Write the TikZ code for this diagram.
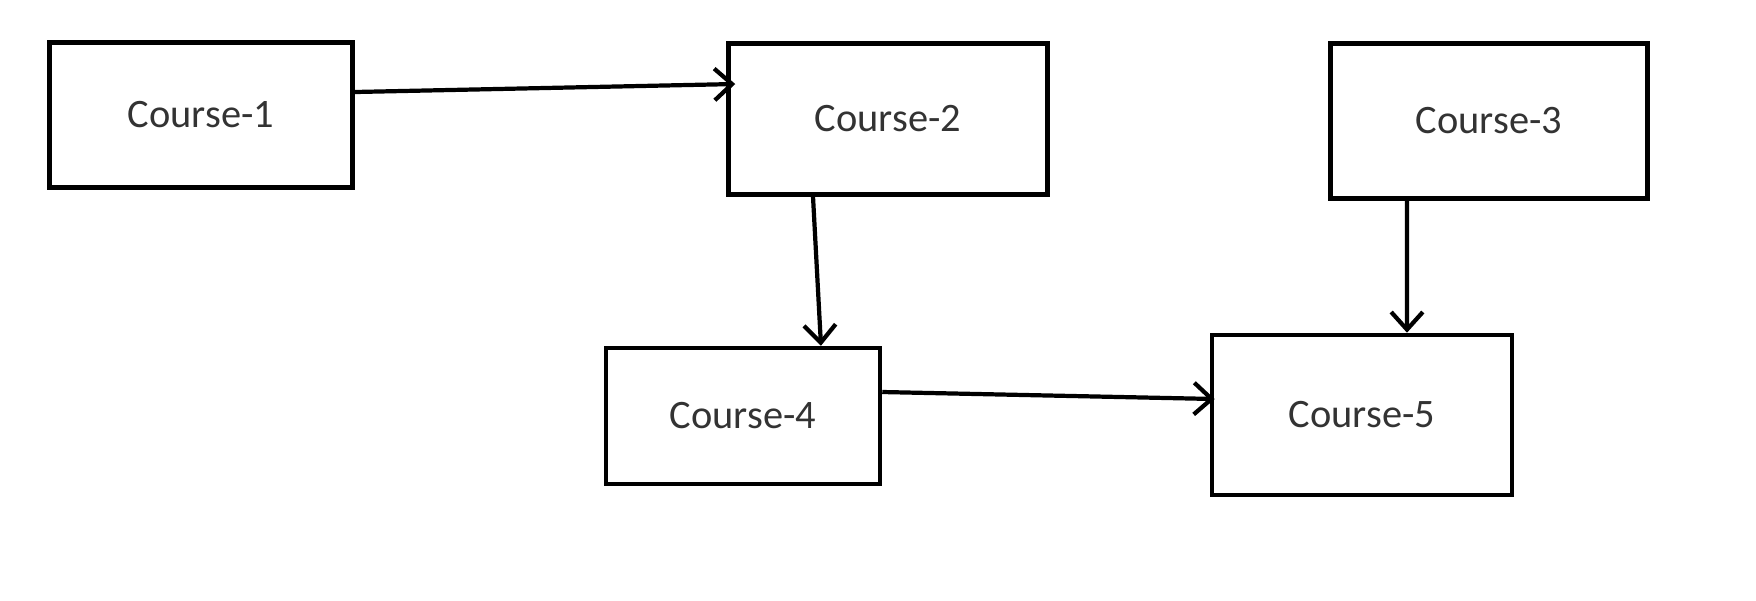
\documentclass[tikz,border=0pt]{standalone}
\usepackage{fontspec}
\setmainfont{Carlito}
\usetikzlibrary{arrows.meta, positioning}

\tikzset{
  coursebox/.style={draw, rectangle, line width=2.6pt, inner sep=0pt,
    font=\fontsize{23}{27}\selectfont, text=black!80},
  link/.style={line width=2.4pt, -{Straight Barb[length=10pt, width=18pt, line width=2.4pt]}}
}

\begin{document}
\begin{tikzpicture}[x=0.02cm, y=-0.02cm]
        \useasboundingbox (0,0) rectangle (1756,600);
        % Nodes
        \node (c1) [coursebox, minimum width=6.06cm, minimum height=2.9cm] at (201,115) {Course-1};
        \node (c2) [coursebox, minimum width=6.38cm, minimum height=3.02cm] at (888,119) {Course-2};
        \node (c3) [coursebox, minimum width=6.34cm, minimum height=3.1cm] at (1489,121) {Course-3};
        \node (c4) [coursebox, minimum width=5.48cm, minimum height=2.72cm] at (743,416) {Course-4};
        \node (c5) [coursebox, minimum width=6cm, minimum height=3.2cm] at (1362,415) {Course-5};

        % Arrows
        \draw[link] ([yshift=0.46cm]c1.east) -- ([xshift=0.18cm, yshift=0.7cm]c2.west);
        \draw[link] ([xshift=-1.5cm]c2.south) -- ([xshift=1.56cm]c4.north);
        \draw[link] ([xshift=-1.64cm]c3.south) -- ([xshift=0.9cm]c5.north);
        \draw[link] ([yshift=0.48cm]c4.east) -- ([xshift=0.1cm, yshift=0.32cm]c5.west);
\end{tikzpicture}
\end{document}
